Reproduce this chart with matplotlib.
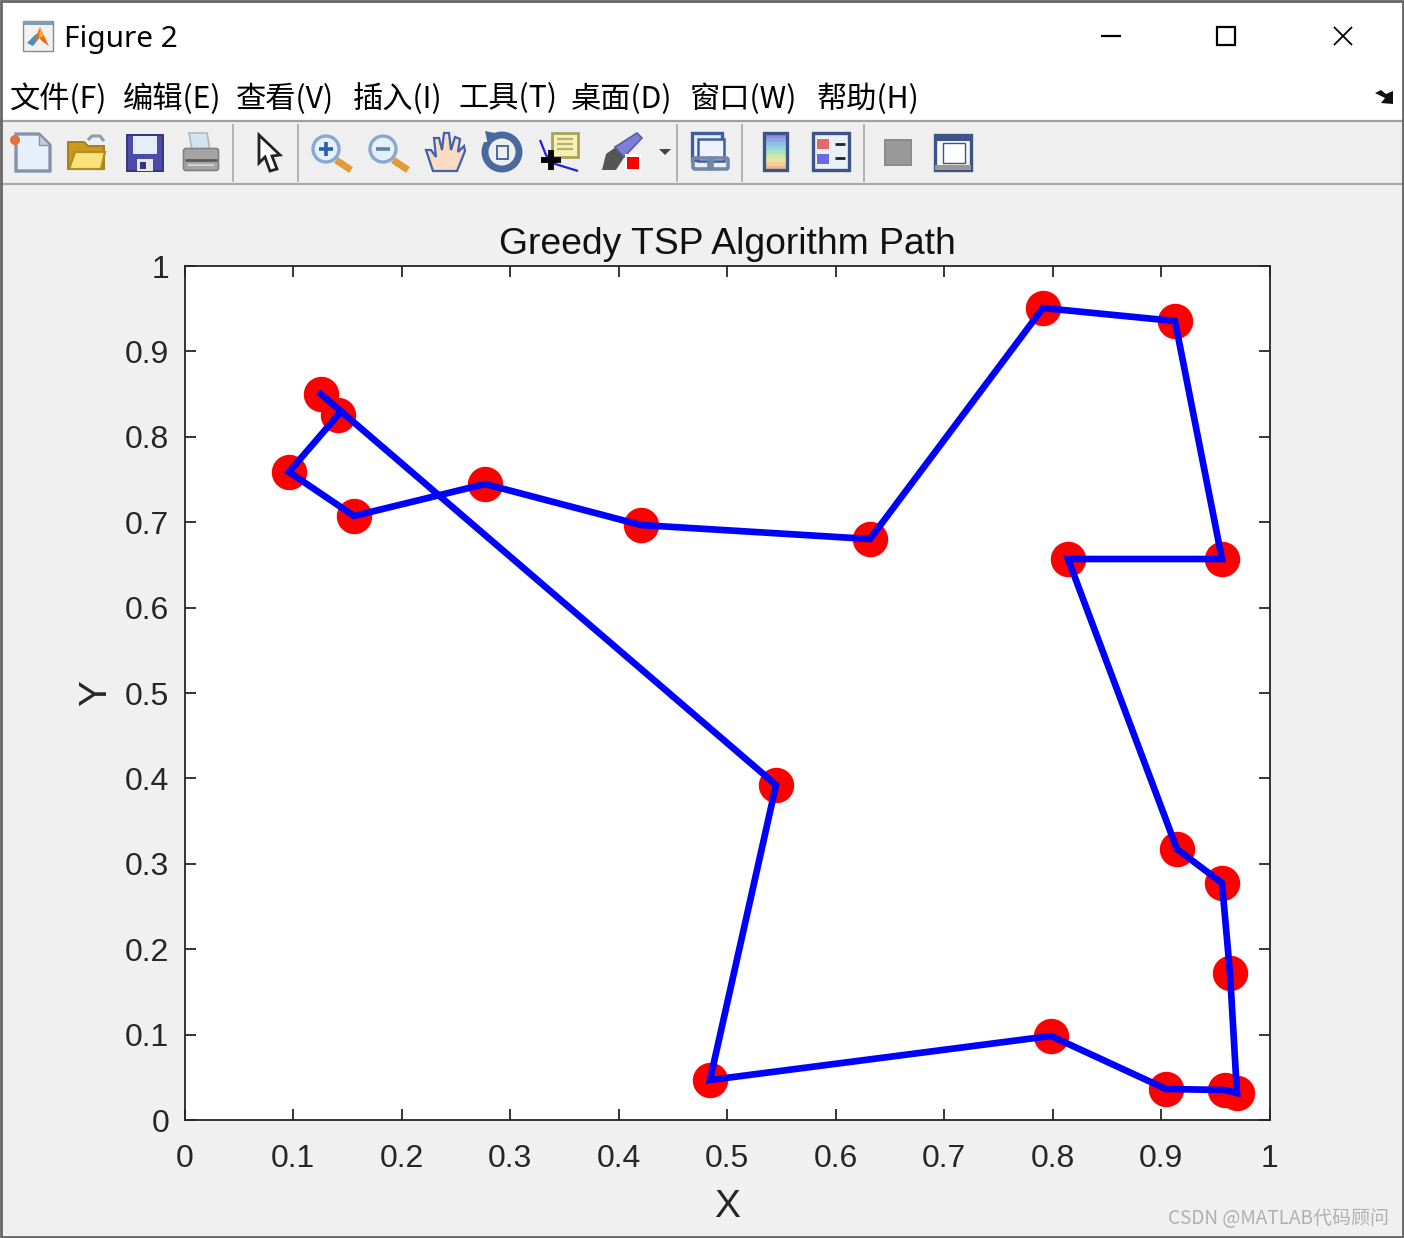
import matplotlib
matplotlib.use("Agg")
import matplotlib.pyplot as plt
from matplotlib.patches import Rectangle, Circle, Polygon, FancyBboxPatch

# tour in visiting order
path_x = [0.1258, 0.5452, 0.4843, 0.7986, 0.9046, 0.9590, 0.9700, 0.9636, 0.9562, 0.9147,
          0.8143, 0.9562, 0.9129, 0.7912, 0.6318, 0.4207, 0.2770, 0.1562, 0.0963, 0.1415]
path_y = [0.8500, 0.3923, 0.0468, 0.0984, 0.0363, 0.0351, 0.0316, 0.1721, 0.2775, 0.3173,
          0.6569, 0.6569, 0.9356, 0.9508, 0.6803, 0.6967, 0.7447, 0.7073, 0.7588, 0.8255]
ticks = [0, 0.1, 0.2, 0.3, 0.4, 0.5, 0.6, 0.7, 0.8, 0.9, 1]
tick_labels = ["0", "0.1", "0.2", "0.3", "0.4", "0.5", "0.6", "0.7", "0.8", "0.9", "1"]
menu_labels = ["文件(F)", "编辑(E)", "查看(V)", "插入(I)", "工具(T)", "桌面(D)", "窗口(W)", "帮助(H)"]
menu_pos = [10, 123, 236, 353, 458, 571, 690, 817]
separators = [233, 298, 677, 742, 864]

W, H = 1404, 1238
fig = plt.figure(figsize=(W / 100, H / 100), dpi=100, facecolor="#f0f0f0")

# window chrome in pixel coordinates
bg = fig.add_axes([0, 0, 1, 1])
bg.set_xlim(0, W)
bg.set_ylim(H, 0)
bg.axis("off")


def rect(x, y, w, h, fc, ec="none", lw=1.0, z=2):
    bg.add_patch(Rectangle((x, y), w, h, fc=fc, ec=ec, lw=lw, zorder=z))


def line(xs, ys, c="black", lw=1.0, z=3):
    bg.plot(xs, ys, color=c, lw=lw, zorder=z, solid_capstyle="butt")


def poly(pts, fc, ec="none", lw=1.0, z=3):
    bg.add_patch(Polygon(pts, closed=True, fc=fc, ec=ec, lw=lw, zorder=z))


def circ(x, y, r, fc, ec="none", lw=1.0, z=3):
    bg.add_patch(Circle((x, y), r, fc=fc, ec=ec, lw=lw, zorder=z))


rect(0, 0, W, 120, "white")
rect(0, 120, W, 64, "#efefef")
line([0, W], [120.5, 120.5], "#a0a0a0", 1.6)
line([0, W], [184, 184], "#a8a8a8", 1.6)
for s in separators:
    line([s, s], [124, 182], "#a8a8a8", 1.2)

# title bar
rect(23, 21, 30, 30, "#f2f2f2", "#8a8a8a", 1)
rect(23, 21, 30, 4, "#7f9db9", z=3)
poly([(27, 43), (36, 34), (41, 36), (33, 46)], "#3f8fd0")
poly([(33, 43), (40, 27), (49, 46), (43, 42), (39, 38)], "#e8701a")
poly([(40, 27), (44, 36), (39, 38)], "#f5b133", z=4)
bg.text(64, 36, "Figure 2", family="Noto Sans", fontsize=21.5, va="center_baseline", ha="left", color="black")
line([1101, 1121], [36, 36], "black", 1.6)
rect(1217, 27, 18, 18, "none", "black", 1.6)
line([1334, 1352], [27, 45], "black", 1.3)
line([1334, 1352], [45, 27], "black", 1.3)

# menu bar
for lab, mx in zip(menu_labels, menu_pos):
    bg.text(mx, 99, lab, family=["Noto Sans CJK SC", "DejaVu Sans"], fontsize=21.8, va="center", ha="left", color="black")
poly([(1375, 93), (1381, 90), (1386, 94), (1393, 91), (1393, 104), (1381, 103), (1385, 98)], "#111111")

# new file
poly([(16, 134), (39, 134), (50, 145), (50, 171), (16, 171)], "#e6effa", "#8592ab", 2.4)
poly([(39, 134), (39, 145), (50, 145)], "#c4cede", "#8592ab", 1, z=4)
circ(15, 140, 5, "#e8703a", z=4)
# open folder
poly([(68, 142), (84, 142), (88, 146), (104, 146), (104, 169), (68, 169)], "#c99a1e", "#a57f1a", 1.4)
poly([(69, 169), (75, 152), (105, 152), (101, 169)], "#fbe27a", "#b08c22", 1.6)
line([88, 92, 100, 104], [140, 136, 136, 141], "#8c9cb0", 2.2)
# save
rect(127, 135, 36, 36, "#4a4ca8", "#33367e", 1.4)
rect(133, 136, 24, 18, "#e6ecf8", z=3)
rect(137, 159, 16, 12, "#e8e8e8", z=3)
rect(140, 162, 6, 7, "#33367e", z=4)
# print
poly([(189, 133), (207, 133), (210, 150), (192, 150)], "#d5e3ee", "#b0b8c0", 1.2)
bg.add_patch(FancyBboxPatch((186, 151), 30, 17, boxstyle="round,pad=2.5", fc="#a4a4a4", ec="#808080", lw=1.2, zorder=3))
line([185, 217], [160, 160], "#5a5a5a", 2, z=4)
line([188, 214], [165, 165], "#d4d4d4", 1.4, z=4)
# pointer
poly([(259, 135), (259, 163), (265, 157), (270, 171), (277, 169), (272, 156), (280, 155)], "white", "#222222", 2)

# zoom in, zoom out
for cx, col in [(326, "#2b5fa8"), (383, "#5b7fb5")]:
    line([cx + 10, cx + 25], [160, 170], "#e59a3a", 5)
    circ(cx, 149, 13, "#e4f0fa", "#88a8d0", 2.4)
line([319, 333], [149, 149], "#2b5fa8", 2.6, z=4)
line([326, 326], [142, 156], "#2b5fa8", 2.6, z=4)
line([376, 390], [149, 149], "#5b7fb5", 2.6, z=4)

# hand
poly([(433, 171), (426, 150), (431, 150), (436, 157), (434, 138), (439, 138), (442, 150), (444, 133),
      (449, 133), (451, 150), (455, 137), (460, 139), (458, 152), (464, 146), (465, 151), (457, 171)],
     "#fbdcc0", "#3f62b0", 1.6)

# rotate
circ(502, 152, 17, "none", "#4a6a9e", 5)
rect(480, 132, 12, 10, "#efefef", z=4)
poly([(485, 131), (500, 134), (488, 145)], "#4a6a9e", z=5)
poly([(497, 146), (508, 146), (508, 159), (497, 159)], "none", "#4a6a9e", 1.4)

# data cursor
rect(552, 133, 26, 24, "#f6f0b4", "#a8a45a", 2)
for yy in [139, 144, 149]:
    line([557, 573], [yy, yy], "#b4b070", 1.6, z=4)
line([540, 546, 552, 578], [140, 155, 163, 171], "#2020e0", 1.6)
line([541, 561], [160, 160], "black", 4.2, z=4)
line([551, 551], [150, 170], "black", 4.2, z=4)

# brush
poly([(602, 170), (606, 154), (616, 147), (625, 156), (616, 170)], "#555555")
poly([(615, 147), (637, 133), (642, 138), (624, 157)], "#7f7fd8", "#5c5ca8", 1.2)
rect(625, 154, 16, 17, "white", z=4)
rect(627, 157, 12, 12, "#ff0000", z=5)
poly([(659, 149), (671, 149), (665, 155)], "#444444")

# link plot
rect(692, 133, 30, 27, "#e8eef8", "#3d5f9e", 2.4)
rect(698, 139, 26, 22, "#eef2fa", "#3d5f9e", 1.8, z=4)
bg.add_patch(FancyBboxPatch((695, 160), 15, 7, boxstyle="round,pad=2", fc="none", ec="#7088a8", lw=2.6, zorder=5))
bg.add_patch(FancyBboxPatch((711, 160), 15, 7, boxstyle="round,pad=2", fc="none", ec="#7088a8", lw=2.6, zorder=5))

# colorbar, built from a few flat bands
band_cols = ["#8f8fe0", "#8fa8e4", "#8fc0e8", "#98d4dc", "#a8e0cc", "#c8e8b0", "#e8e4a0", "#f0d098", "#f0b890"]
for i, bc in enumerate(band_cols):
    rect(765, 134 + i * 4, 21, 4.2, bc, z=3)
rect(764, 133, 23, 37, "none", "#3d5488", 2.4, z=4)

# legend
rect(813, 133, 36, 37, "#eaf0f8", "#3d5488", 2.4)
rect(817, 139, 12, 10, "#e36a6a", z=4)
rect(817, 154, 12, 10, "#6a6ae0", z=4)
line([835, 845], [144, 144], "#222222", 2, z=4)
line([835, 845], [158, 158], "#222222", 2, z=4)

# hide plot tools, show plot tools
rect(885, 140, 26, 25, "#999999", "#8a8a8a", 1.4)
rect(935, 135, 36, 35, "#f4f6fa", "#3d5488", 2.4)
rect(935, 135, 36, 6, "#3d5488", z=4)
rect(935, 165, 36, 5, "#9a9a90", z=4)
rect(943, 143, 22, 20, "white", "#3d5488", 1, z=5)

# window border
rect(1, 1, W - 2, H - 2, "none", "#666666", 2, z=6)

# chart axes
left, right, top, bottom = 184.5, 1269.5, 266, 1120
ax = fig.add_axes([left / W, 1 - bottom / H, (right - left) / W, (bottom - top) / H])
ax.set_facecolor("white")
ax.plot(path_x, path_y, linestyle="none", marker="o", color="#ff0000", markersize=24.5, clip_on=False, zorder=2)
ax.plot(path_x, path_y, color="#0000ff", linewidth=4.8, solid_joinstyle="miter", zorder=3)
ax.set_xlim(0, 1)
ax.set_ylim(0, 1)
ax.set_xticks(ticks)
ax.set_xticklabels(tick_labels)
ax.set_yticks(ticks)
ax.set_yticklabels(tick_labels)
ax.tick_params(axis="both", direction="in", top=True, right=True, length=8, width=1.3, color="#262626",
               labelcolor="#262626", labelsize=23)
ax.tick_params(axis="x", pad=17)
ax.tick_params(axis="y", pad=11)
for lbl in ax.get_xticklabels() + ax.get_yticklabels():
    lbl.set_family("Liberation Sans")
for sp in ax.spines.values():
    sp.set_linewidth(1.3)
    sp.set_color("#262626")
ax.set_xlabel("X", family="Liberation Sans", fontsize=28, color="#262626", labelpad=11)
ax.set_ylabel("Y", family="Liberation Sans", fontsize=28, color="#262626", labelpad=8)
ax.set_title("Greedy TSP Algorithm Path", family="Liberation Sans", fontsize=26.8, color="#111111", pad=9)

# watermark
fig.text(1389 / W, 1 - 1219 / H, "CSDN @MATLAB代码顾问", family=["Noto Sans CJK SC", "DejaVu Sans"],
         fontsize=13.7, color="#b0b0b0", ha="right", va="center")

fig.savefig("out.png", dpi=100, facecolor=fig.get_facecolor())
